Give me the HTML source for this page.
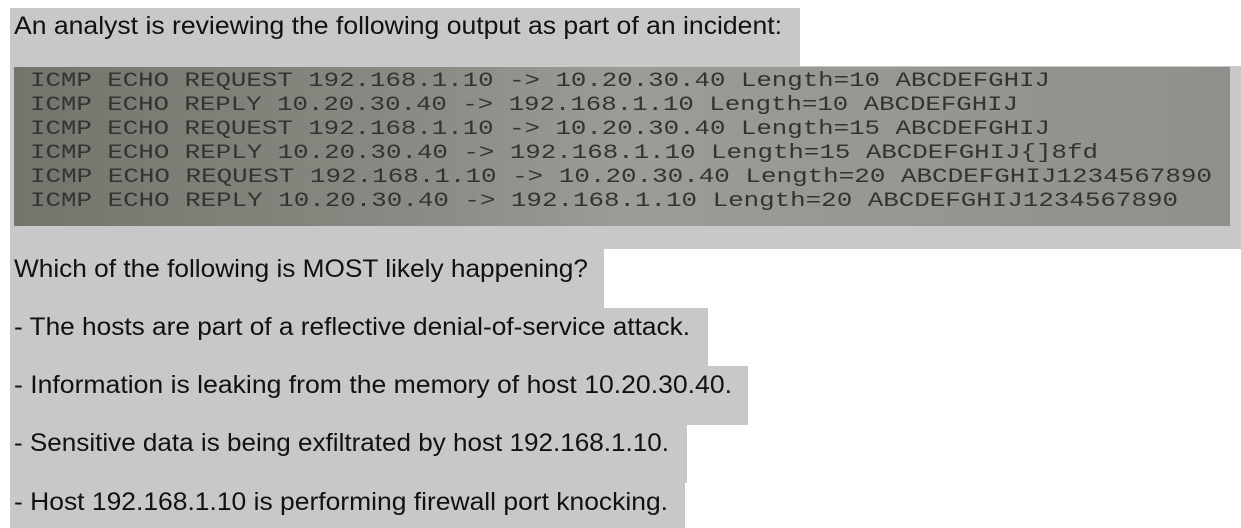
<!DOCTYPE html>
<html><head><meta charset="utf-8"><style>
html,body{margin:0;padding:0;background:#fff;}
svg{display:block;}
</style></head><body>
<svg width="1241" height="528" viewBox="0 0 1241 528" xmlns="http://www.w3.org/2000/svg">
<defs>
<linearGradient id="ph" x1="0" y1="0" x2="1" y2="0">
<stop offset="0" stop-color="#74746c"/>
<stop offset="0.35" stop-color="#8c8c86"/>
<stop offset="0.5" stop-color="#9a9c98"/>
<stop offset="0.75" stop-color="#959793"/>
<stop offset="1" stop-color="#8e908c"/>
</linearGradient>
</defs>
<rect x="0" y="0" width="1241" height="528" fill="#fff"/>
<rect x="10" y="8" width="790" height="60" fill="#c8c8c8"/>
<rect x="10" y="66" width="1231" height="183" fill="#c8c8c8"/>
<rect x="14" y="67" width="1216" height="159" fill="url(#ph)"/>
<rect x="10" y="249" width="594" height="61" fill="#c8c8c8"/>
<rect x="10" y="308" width="698" height="59" fill="#c8c8c8"/>
<rect x="10" y="366" width="738" height="59" fill="#c8c8c8"/>
<rect x="10" y="424" width="677" height="59" fill="#c8c8c8"/>
<rect x="10" y="482" width="675" height="46" fill="#c8c8c8"/>
<g font-family="Liberation Sans, sans-serif" font-size="25" fill="#111">
<text x="14" y="34" textLength="768" lengthAdjust="spacingAndGlyphs">An analyst is reviewing the following output as part of an incident:</text>
<text x="14" y="277" textLength="574" lengthAdjust="spacingAndGlyphs">Which of the following is MOST likely happening?</text>
<text x="14" y="335" textLength="676" lengthAdjust="spacingAndGlyphs">- The hosts are part of a reflective denial-of-service attack.</text>
<text x="14" y="393" textLength="718" lengthAdjust="spacingAndGlyphs">- Information is leaking from the memory of host 10.20.30.40.</text>
<text x="14" y="451" textLength="655" lengthAdjust="spacingAndGlyphs">- Sensitive data is being exfiltrated by host 192.168.1.10.</text>
<text x="14" y="510" textLength="654" lengthAdjust="spacingAndGlyphs">- Host 192.168.1.10 is performing firewall port knocking.</text>
</g>
<g font-family="Liberation Mono, monospace" font-size="20" fill="#333331">
<text x="30" y="86" textLength="1020" lengthAdjust="spacingAndGlyphs">ICMP ECHO REQUEST 192.168.1.10 -&gt; 10.20.30.40 Length=10 ABCDEFGHIJ</text>
<text x="30" y="110" textLength="988" lengthAdjust="spacingAndGlyphs">ICMP ECHO REPLY 10.20.30.40 -&gt; 192.168.1.10 Length=10 ABCDEFGHIJ</text>
<text x="30" y="134" textLength="1020" lengthAdjust="spacingAndGlyphs">ICMP ECHO REQUEST 192.168.1.10 -&gt; 10.20.30.40 Length=15 ABCDEFGHIJ</text>
<text x="30" y="158" textLength="1068" lengthAdjust="spacingAndGlyphs">ICMP ECHO REPLY 10.20.30.40 -&gt; 192.168.1.10 Length=15 ABCDEFGHIJ{]8fd</text>
<text x="30" y="182" textLength="1182" lengthAdjust="spacingAndGlyphs">ICMP ECHO REQUEST 192.168.1.10 -&gt; 10.20.30.40 Length=20 ABCDEFGHIJ1234567890</text>
<text x="30" y="206" textLength="1148" lengthAdjust="spacingAndGlyphs">ICMP ECHO REPLY 10.20.30.40 -&gt; 192.168.1.10 Length=20 ABCDEFGHIJ1234567890</text>
</g>
</svg>
</body></html>
